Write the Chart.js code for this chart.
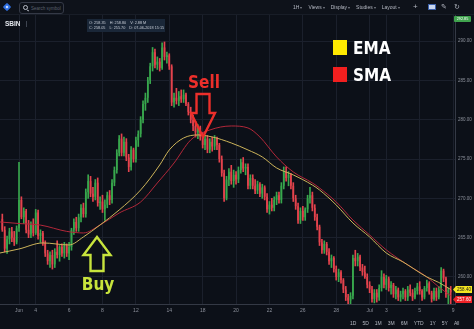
<!DOCTYPE html>
<html>
<head>
<meta charset="utf-8">
<title>SBIN 1H</title>
<script src="https://cdn.jsdelivr.net/npm/chart.js@4.4.1/dist/chart.umd.min.js"></script>
<style>
  html, body { margin: 0; padding: 0; background: #0c1018; }
  #app { position: relative; width: 474px; height: 329px; overflow: hidden;
         font-family: 'Liberation Sans', Arial, sans-serif; }
  #chart { position: absolute; left: 0; top: 0; }
  .topbar { position: absolute; left: 0; top: 0; width: 474px; height: 15px;
            background: #0e121a; border-bottom: 1px solid #181d27; box-sizing: border-box; }
  .logo { position: absolute; left: 4px; top: 4px; width: 6px; height: 6px; background: #2f6fe0;
          transform: rotate(45deg); border-radius: 1px; }
  .logo::after { content: ''; position: absolute; left: 2px; top: 2px; width: 2px; height: 2px; background: #dfe8ff; }
  .search { position: absolute; left: 19px; top: 2px; width: 43px; height: 10px; border: 1px solid #343946;
            border-radius: 3px; }
  .search .lens { position: absolute; left: 3px; top: 2px; width: 3px; height: 3px; border: 1px solid #b9bdc7; border-radius: 50%; }
  .search .lens::after { content: ''; position: absolute; left: 3px; top: 3.5px; width: 2px; height: 1px; background: #b9bdc7; transform: rotate(45deg); }
  .search span { position: absolute; left: 11px; top: 2.5px; font-size: 4.5px; color: #5c616e; white-space: nowrap; }
  .menus { position: absolute; left: 293px; top: 4px; display: flex; gap: 6px; font-size: 5px; color: #b4b8c2; white-space: nowrap; align-items: center; }
  .menus i { font-style: normal; color: #7d818c; font-size: 4px; margin-left: 1px; }
  .plus { position: absolute; left: 413px; top: 2px; font-size: 8px; color: #b4b8c2; }
  .shot { position: absolute; left: 428px; top: 4px; width: 8px; height: 6px; background: #c9d6ee; border: 1px solid #3a5fa8; box-sizing: border-box; }
  .pen { position: absolute; left: 441px; top: 3px; font-size: 7px; color: #b4b8c2; font-family: 'DejaVu Sans', sans-serif; }
  .redo { position: absolute; left: 454px; top: 3px; font-size: 7px; color: #b4b8c2; font-family: 'DejaVu Sans', sans-serif; }
  .symbol { position: absolute; left: 5px; top: 20px; font-size: 6.5px; font-weight: bold; color: #e4e7ee; }
  .symsep { position: absolute; left: 26px; top: 21px; width: 1px; height: 6px; background: #3e4450; }
  .info { position: absolute; left: 87px; top: 19px; width: 78px; height: 13px; background: #1a2738;
          font-size: 3.8px; color: #c6ccd6; line-height: 5px; padding: 1.5px 2px; box-sizing: border-box; white-space: nowrap; }
  .info div { display: flex; gap: 4px; }
  .tag { position: absolute; left: 454px; top: 16px; width: 17px; height: 6px; background: #3fa34d; border-radius: 1px;
         font-size: 3.8px; color: #ffffff; line-height: 6px; text-align: center; }
  .ranges { position: absolute; left: 350px; top: 320px; display: flex; gap: 6px; font-size: 5px; color: #b4b8c2; }
</style>
</head>
<body>
<div id="app">
  <canvas id="chart" width="474" height="329"></canvas>
  <div class="topbar">
    <div class="logo"></div>
    <div class="search"><div class="lens"></div><span>Search symbol</span></div>
    <div class="menus">
      <span>1H<i>▾</i></span><span>Views<i>▾</i></span><span>Display<i>▾</i></span>
      <span>Studies<i>▾</i></span><span>Layout<i>▾</i></span>
    </div>
    <div class="plus">+</div>
    <div class="shot"></div>
    <div class="pen">✎</div>
    <div class="redo">↻</div>
  </div>
  <div class="symbol">SBIN</div>
  <div class="symsep"></div>
  <div class="info" id="info"></div>
  <div class="tag">292.85</div>
  <div class="ranges">
    <span>1D</span><span>5D</span><span>1M</span><span>3M</span><span>6M</span><span>YTD</span><span>1Y</span><span>5Y</span><span>All</span>
  </div>
</div>

<script>
// Hourly bars: 7 per NSE session (9:15 .. 15:15)
const HOURS_PER_DAY = 7;

const tradingDays = [
    '2018-05-31', '2018-06-01', '2018-06-04', '2018-06-05', '2018-06-06', '2018-06-07', '2018-06-08',
    '2018-06-11', '2018-06-12', '2018-06-13', '2018-06-14', '2018-06-15', '2018-06-18', '2018-06-19',
    '2018-06-20', '2018-06-21', '2018-06-22', '2018-06-25', '2018-06-26', '2018-06-27', '2018-06-28',
    '2018-06-29', '2018-07-02', '2018-07-03', '2018-07-04', '2018-07-05', '2018-07-06', '2018-07-09'
];

// days that get a label on the time axis
const axisDays = [
    '2018-06-01', '2018-06-04', '2018-06-06', '2018-06-08', '2018-06-12', '2018-06-14', '2018-06-18',
    '2018-06-20', '2018-06-22', '2018-06-26', '2018-06-28', '2018-07-02', '2018-07-03', '2018-07-05', '2018-07-09'
];

// one row per session, May 31 .. Jul 6
const opens = [
    267.4, 266.0, 263.6, 264.8, 265.8, 265.0, 264.4,
    266.2, 269.8, 267.6, 268.4, 266.0, 265.4, 266.6,
    265.6, 268.2, 265.2, 265.6, 264.3, 263.0, 262.0,
    262.8, 261.6, 263.2, 262.8, 263.8, 263.0, 264.0,
    263.0, 263.8, 266.0, 267.0, 266.2, 267.6, 268.8,
    268.0, 270.8, 272.2, 270.6, 270.2, 272.0, 269.4,
    269.6, 268.6, 269.2, 270.4, 269.8, 272.0, 273.6,
    275.8, 277.6, 275.8, 277.2, 275.2, 274.0, 276.2,
    275.0, 277.4, 278.2, 280.0, 282.0, 282.8, 285.0,
    286.8, 288.6, 287.0, 287.4, 286.6, 289.2, 288.0,
    288.2, 286.8, 282.2, 282.8, 282.4, 283.0, 282.6,
    283.2, 282.0, 281.0, 280.0, 279.2, 278.4, 279.0,
    277.8, 276.8, 277.6, 276.2, 277.2, 276.6, 277.6,
    276.8, 275.0, 273.2, 270.0, 272.4, 273.4, 272.2,
    273.0, 272.4, 273.6, 274.6, 273.8, 274.0, 271.6,
    272.6, 271.6, 271.0, 271.8, 270.6, 271.4, 270.2,
    268.6, 269.2, 268.8, 269.8, 270.4, 269.8, 271.6,
    273.4, 272.6, 273.0, 271.6, 270.0, 269.0, 267.2,
    268.4, 267.6, 268.6, 270.0, 270.4, 268.8, 267.6,
    266.4, 264.4, 263.4, 264.2, 263.2, 262.0, 262.4,
    261.0, 260.0, 260.6, 259.6, 258.4, 257.4, 257.0,
    257.6, 262.4, 262.0, 262.6, 261.2, 260.6, 260.0,
    259.0, 258.4, 257.2, 258.0, 257.4, 258.6, 260.0,
    259.0, 259.8, 258.6, 259.0, 257.8, 258.4, 257.4,
    257.8, 258.2, 257.4, 258.4, 258.0, 257.4, 258.2,
    258.8, 258.2, 257.4, 258.6, 259.2, 258.0, 257.2,
    258.2, 257.4, 258.4, 260.8, 259.8, 257.8, 258.35
];
const highs = [
    268.0, 266.4, 265.2, 266.2, 266.3, 265.8, 266.5,
    274.6, 270.2, 268.8, 268.6, 267.2, 267.0, 267.4,
    268.6, 268.5, 266.0, 265.8, 264.6, 263.4, 263.2,
    263.4, 263.6, 264.6, 264.0, 264.2, 264.4, 264.2,
    264.4, 266.2, 267.4, 267.6, 268.0, 269.2, 269.4,
    271.2, 273.0, 272.8, 271.4, 272.4, 272.6, 270.2,
    270.4, 269.8, 270.8, 271.0, 272.4, 274.0, 276.2,
    278.0, 278.2, 277.8, 277.6, 275.6, 276.6, 276.4,
    277.8, 278.6, 280.4, 282.4, 283.4, 285.4, 287.2,
    289.2, 289.0, 288.0, 287.8, 289.8, 289.9, 288.6,
    288.4, 287.0, 283.4, 284.0, 283.6, 283.8, 283.8,
    283.4, 282.2, 281.6, 280.6, 279.8, 279.4, 279.2,
    278.4, 278.0, 278.0, 277.6, 277.8, 278.0, 277.8,
    277.0, 275.4, 273.6, 272.8, 273.8, 274.2, 273.6,
    273.4, 274.0, 275.0, 275.2, 274.4, 274.4, 273.0,
    273.0, 272.4, 272.2, 272.0, 271.8, 271.6, 270.6,
    269.6, 270.0, 270.2, 270.8, 270.8, 272.0, 274.0,
    274.0, 273.4, 273.2, 272.0, 270.4, 269.4, 268.8,
    269.0, 268.8, 270.4, 271.4, 270.8, 269.2, 268.0,
    266.6, 264.8, 264.6, 264.4, 263.6, 262.8, 262.6,
    261.4, 261.0, 260.8, 259.8, 258.8, 257.8, 258.0,
    262.8, 263.4, 263.0, 262.8, 261.6, 261.4, 260.4,
    259.4, 258.8, 258.4, 258.4, 259.0, 260.8, 260.4,
    260.2, 260.0, 259.4, 259.2, 258.8, 258.6, 258.2,
    258.6, 258.4, 258.8, 259.0, 258.4, 258.6, 259.2,
    259.4, 258.4, 258.8, 259.6, 259.4, 258.2, 258.6,
    258.6, 258.8, 261.2, 261.0, 260.0, 258.6, 258.8
];
const lows = [
    265.8, 263.2, 263.0, 264.2, 264.5, 264.0, 264.2,
    265.8, 267.4, 266.8, 265.6, 265.0, 265.0, 265.2,
    265.4, 264.8, 264.4, 264.0, 262.6, 261.6, 261.2,
    261.0, 261.2, 262.4, 262.0, 262.6, 262.4, 262.6,
    262.2, 263.4, 265.4, 265.8, 265.8, 267.0, 267.6,
    267.6, 270.0, 270.2, 269.6, 269.8, 269.0, 268.6,
    268.2, 267.2, 268.8, 269.2, 269.4, 271.6, 273.2,
    275.4, 275.4, 275.4, 274.8, 273.4, 273.6, 274.6,
    274.6, 276.6, 277.8, 279.6, 281.2, 282.2, 284.6,
    286.2, 286.6, 286.4, 286.2, 286.4, 287.6, 287.2,
    286.4, 281.8, 281.6, 282.0, 281.8, 282.2, 282.2,
    281.8, 280.6, 279.6, 278.6, 277.8, 277.6, 277.4,
    276.4, 276.2, 275.8, 275.8, 276.0, 276.2, 276.2,
    274.6, 272.8, 269.6, 269.8, 271.6, 271.8, 271.4,
    271.8, 272.0, 273.2, 273.4, 273.0, 271.2, 271.2,
    271.2, 270.6, 270.6, 270.2, 270.0, 269.8, 268.2,
    268.0, 268.4, 268.4, 269.2, 269.4, 269.4, 271.2,
    272.2, 271.6, 271.2, 269.6, 268.6, 266.8, 266.8,
    267.2, 267.2, 268.2, 269.4, 268.4, 267.2, 266.0,
    264.0, 263.0, 263.0, 262.8, 261.6, 261.2, 260.6,
    259.6, 259.4, 259.2, 258.0, 257.0, 256.6, 256.6,
    257.2, 261.4, 261.4, 260.8, 260.2, 259.8, 258.6,
    258.0, 256.8, 256.7, 256.8, 257.0, 258.2, 258.6,
    258.4, 258.2, 257.8, 257.4, 257.2, 257.0, 256.9,
    257.2, 257.0, 257.0, 257.6, 257.0, 257.2, 257.8,
    257.8, 257.0, 257.2, 258.2, 257.8, 256.8, 257.0,
    257.0, 257.2, 258.0, 259.4, 257.4, 256.6, 255.7
];
const closes = [
    266.0, 263.6, 264.8, 265.8, 265.0, 264.4, 266.2,
    269.8, 267.6, 268.4, 266.0, 265.4, 266.6, 265.6,
    268.2, 265.2, 265.6, 264.3, 263.0, 262.0, 262.8,
    261.6, 263.2, 262.8, 263.8, 263.0, 264.0, 263.0,
    263.8, 266.0, 267.0, 266.2, 267.6, 268.8, 268.0,
    270.8, 272.2, 270.6, 270.2, 272.0, 269.4, 269.6,
    268.6, 269.2, 270.4, 269.8, 272.0, 273.6, 275.8,
    277.6, 275.8, 277.2, 275.2, 274.0, 276.2, 275.0,
    277.4, 278.2, 280.0, 282.0, 282.8, 285.0, 286.8,
    288.6, 287.0, 287.4, 286.6, 289.2, 288.0, 288.2,
    286.8, 282.2, 282.8, 282.4, 283.0, 282.6, 283.2,
    282.0, 281.0, 280.0, 279.2, 278.4, 279.0, 277.8,
    276.8, 277.6, 276.2, 277.2, 276.6, 277.6, 276.8,
    275.0, 273.2, 270.0, 272.4, 273.4, 272.2, 273.0,
    272.4, 273.6, 274.6, 273.8, 274.0, 271.6, 272.6,
    271.6, 271.0, 271.8, 270.6, 271.4, 270.2, 268.6,
    269.2, 268.8, 269.8, 270.4, 269.8, 271.6, 273.4,
    272.6, 273.0, 271.6, 270.0, 269.0, 267.2, 268.4,
    267.6, 268.6, 270.0, 270.4, 268.8, 267.6, 266.4,
    264.4, 263.4, 264.2, 263.2, 262.0, 262.4, 261.0,
    260.0, 260.6, 259.6, 258.4, 257.4, 257.0, 257.6,
    262.4, 262.0, 262.6, 261.2, 260.6, 260.0, 259.0,
    258.4, 257.2, 258.0, 257.4, 258.6, 260.0, 259.0,
    259.8, 258.6, 259.0, 257.8, 258.4, 257.4, 257.8,
    258.2, 257.4, 258.4, 258.0, 257.4, 258.2, 258.8,
    258.2, 257.4, 258.6, 259.2, 258.0, 257.2, 258.2,
    257.4, 258.4, 260.8, 259.8, 257.8, 258.35, 258.05
];

// moving averages, read at bar positions
const emaAt = [-1, 7, 17, 28, 34, 41, 49, 58, 66, 70, 76, 82, 88, 96, 103, 109, 115, 122, 130, 133, 140, 147, 154, 161, 168, 178, 183, 188];
const emaValues = [263.05, 263.56, 264.33, 264.07, 265.09, 266.62, 268.52, 271.07, 274.25, 276.16, 277.68, 278.07, 277.81, 277.05,
    276.16, 275.27, 273.87, 272.98, 271.70, 271.07, 269.16, 266.87, 265.09, 263.05, 261.91, 260.0, 259.3, 258.4];
const smaAt = [-1, 7, 16, 27, 34, 41, 49, 58, 65, 72, 79, 87, 96, 103, 108, 115, 122, 130, 133, 140, 147, 154, 161, 170, 178, 183, 188];
const smaValues = [267.0, 266.8, 266.6, 265.8, 265.6, 266.62, 268.14, 269.54, 271.96, 274.5, 277.43, 278.70, 279.21, 278.96,
    277.81, 275.27, 273.36, 271.96, 271.32, 269.54, 267.25, 265.34, 263.44, 261.53, 260.0, 258.73, 257.6];

const priceTicks = [260, 265, 270, 275, 280, 285, 290];

// crossover signals
const signalNames = ['Buy', 'Sell'];
const signalAt = [39.7, 84.15];
const signalPrice = [265.09, 277.81];

const UP = '#38a74d';
const DOWN = '#e3434d';
const EMA_COLOR = '#cdb45a';
const SMA_COLOR = '#b3283a';
const GRID = '#1b202c';
const AXIS_TEXT = '#8c909b';
const MONTHS = ['Jan', 'Feb', 'Mar', 'Apr', 'May', 'Jun', 'Jul', 'Aug', 'Sep', 'Oct', 'Nov', 'Dec'];

function dayLabel(value) {
    const idx = Math.round(value / HOURS_PER_DAY);
    const day = tradingDays[idx];
    if (!day) return '';
    const prev = tradingDays[idx - 1];
    if (!prev || prev.slice(5, 7) !== day.slice(5, 7)) {
        return MONTHS[Number(day.slice(5, 7)) - 1];
    }
    return String(Number(day.slice(8)));
}

function candleColor(i) {
    return closes[i] >= opens[i] ? UP : DOWN;
}

function fillInfo() {
    const last = closes.length - 1;
    const day = tradingDays[Math.floor(last / HOURS_PER_DAY)];
    const hour = 9 + last % HOURS_PER_DAY;
    const date = day.slice(5, 7) + '-' + day.slice(8) + '-' + day.slice(0, 4);
    document.getElementById('info').innerHTML =
        '<div><span>O: ' + opens[last].toFixed(2) + '</span><span>H: ' + highs[last].toFixed(2) + '</span><span>V: 2.88 M</span></div>' +
        '<div><span>C: ' + closes[last].toFixed(2) + '</span><span>L: ' + lows[last].toFixed(2) + '</span><span>D: ' + date + ' ' + hour + ':15</span></div>';
}

function drawArrow(ctx, tx, ty, dir, size, color) {
    // dir 1: points down, -1: points up
    const {headH, headW, shaftH, shaftW} = size;
    ctx.beginPath();
    ctx.moveTo(tx, ty);
    ctx.lineTo(tx - headW, ty - dir * headH);
    ctx.lineTo(tx - shaftW, ty - dir * headH);
    ctx.lineTo(tx - shaftW, ty - dir * (headH + shaftH));
    ctx.lineTo(tx + shaftW, ty - dir * (headH + shaftH));
    ctx.lineTo(tx + shaftW, ty - dir * headH);
    ctx.lineTo(tx + headW, ty - dir * headH);
    ctx.closePath();
    ctx.lineWidth = 2.4;
    ctx.lineJoin = 'miter';
    ctx.strokeStyle = color;
    ctx.stroke();
}

function priceTag(ctx, left, y, text, bg, fg) {
    ctx.fillStyle = bg;
    ctx.beginPath();
    ctx.moveTo(left - 3, y);
    ctx.lineTo(left, y - 3.5);
    ctx.lineTo(left + 16, y - 3.5);
    ctx.lineTo(left + 16, y + 3.5);
    ctx.lineTo(left, y + 3.5);
    ctx.closePath();
    ctx.fill();
    ctx.fillStyle = fg;
    ctx.font = '4.5px "Liberation Sans", Arial, sans-serif';
    ctx.textAlign = 'center';
    ctx.textBaseline = 'middle';
    ctx.fillText(text, left + 8, y + 0.3);
}

const BIG_FONT = 'bold 17px "Liberation Sans Narrow", "DejaVu Sans Condensed", sans-serif';

const annotations = {
    id: 'annotations',
    afterDraw(chart) {
        const {ctx, chartArea} = chart;
        const xs = chart.scales.x;
        const ys = chart.scales.y;
        ctx.save();

        signalNames.forEach((name, k) => {
            const tx = xs.getPixelForValue(signalAt[k]);
            const ty = ys.getPixelForValue(signalPrice[k]);
            ctx.font = BIG_FONT;
            ctx.textAlign = 'center';
            if (name === 'Sell') {
                const size = {headH: 24, headW: 12, shaftH: 19, shaftW: 6.5};
                drawArrow(ctx, tx, ty, 1, size, '#ec2f2b');
                ctx.fillStyle = '#ec2f2b';
                ctx.textBaseline = 'alphabetic';
                ctx.fillText(name, tx + 1, ty - size.headH - size.shaftH - 6);
            } else {
                const size = {headH: 18, headW: 13.5, shaftH: 16, shaftW: 6.5};
                drawArrow(ctx, tx, ty, -1, size, '#c8e43c');
                ctx.fillStyle = '#c8e43c';
                ctx.textBaseline = 'top';
                ctx.fillText(name, tx + 1, ty + size.headH + size.shaftH + 6);
            }
        });

        // legend
        const legend = [['EMA', '#ffe900'], ['SMA', '#f21f1f']];
        legend.forEach(([name, color], k) => {
            const top = 40 + k * 27;
            ctx.fillStyle = color;
            ctx.fillRect(333, top, 14, 15);
            ctx.fillStyle = '#ffffff';
            ctx.font = BIG_FONT;
            ctx.textAlign = 'left';
            ctx.textBaseline = 'alphabetic';
            ctx.fillText(name, 353, top + 14);
        });

        // last values on the price axis
        const emaLast = emaValues[emaValues.length - 1];
        const smaLast = smaValues[smaValues.length - 1];
        const yEma = ys.getPixelForValue(emaLast);
        const ySma = Math.max(ys.getPixelForValue(smaLast), yEma + 10);
        priceTag(ctx, chartArea.right + 1, yEma, emaLast.toFixed(2), '#f3e521', '#1a1a1a');
        priceTag(ctx, chartArea.right + 1, ySma, smaLast.toFixed(2), '#ee2227', '#ffffff');

        ctx.restore();
    }
};

fillInfo();

Chart.defaults.font.family = '"Liberation Sans", Arial, sans-serif';

const bars = closes.map((_, i) => i);
const ctx = document.getElementById('chart').getContext('2d');

new Chart(ctx, {
    type: 'bar',
    data: {
        datasets: [
            {
                type: 'line',
                label: 'EMA',
                data: emaAt.map((x, k) => ({x: x, y: emaValues[k]})),
                borderColor: EMA_COLOR,
                borderWidth: 1,
                pointRadius: 0,
                cubicInterpolationMode: 'monotone',
                order: 0
            },
            {
                type: 'line',
                label: 'SMA',
                data: smaAt.map((x, k) => ({x: x, y: smaValues[k]})),
                borderColor: SMA_COLOR,
                borderWidth: 1,
                pointRadius: 0,
                cubicInterpolationMode: 'monotone',
                order: 0
            },
            {
                label: 'body',
                data: bars.map(i => ({x: i, y: [opens[i], closes[i]]})),
                backgroundColor: c => candleColor(c.dataIndex),
                barPercentage: 0.7,
                categoryPercentage: 1,
                grouped: false,
                order: 1
            },
            {
                label: 'wick',
                data: bars.map(i => ({x: i, y: [lows[i], highs[i]]})),
                backgroundColor: c => candleColor(c.dataIndex),
                barThickness: 1,
                grouped: false,
                order: 2
            }
        ]
    },
    options: {
        responsive: false,
        animation: false,
        events: [],
        layout: {
            padding: { top: 15 }
        },
        plugins: {
            legend: { display: false },
            tooltip: { enabled: false }
        },
        scales: {
            x: {
                type: 'linear',
                min: -0.97,
                max: 189.8,
                offset: false,
                afterBuildTicks: axis => {
                    axis.ticks = axisDays.map(d => ({ value: tradingDays.indexOf(d) * HOURS_PER_DAY }));
                },
                afterFit: axis => { axis.height = 25; },
                ticks: {
                    callback: v => dayLabel(v),
                    color: AXIS_TEXT,
                    font: { size: 5 },
                    padding: 4,
                    maxRotation: 0,
                    autoSkip: false
                },
                grid: { color: GRID, drawTicks: false, offset: false },
                border: { color: '#343945' }
            },
            y: {
                position: 'right',
                min: 256.56,
                max: 293.33,
                beginAtZero: false,
                afterBuildTicks: axis => {
                    axis.ticks = priceTicks.map(v => ({ value: v }));
                },
                afterFit: axis => { axis.width = 19; },
                ticks: {
                    callback: v => v.toFixed(2),
                    color: AXIS_TEXT,
                    font: { size: 4.5 },
                    padding: 3
                },
                grid: { color: GRID, drawTicks: false },
                border: { color: '#343945' }
            }
        }
    },
    plugins: [annotations]
});
</script>
</body>
</html>
